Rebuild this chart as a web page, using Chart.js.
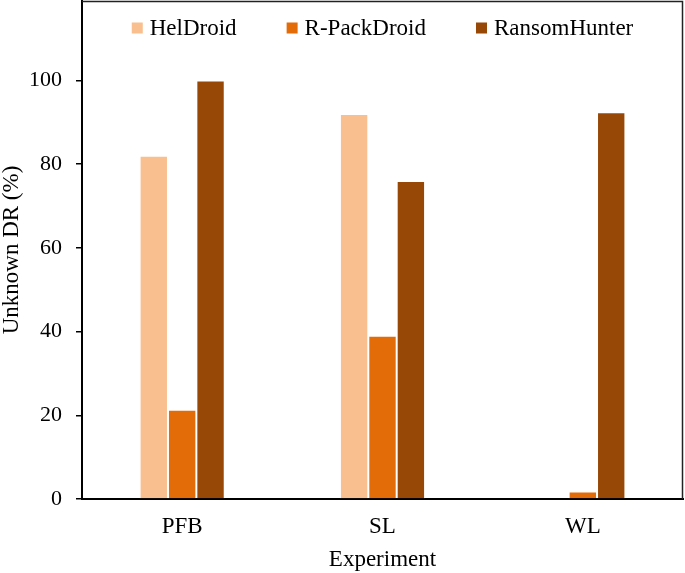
<!DOCTYPE html>
<html>
<head>
<meta charset="utf-8">
<script src="https://cdn.jsdelivr.net/npm/chart.js@4.4.0/dist/chart.umd.min.js"></script>
<style>
  html, body { margin: 0; padding: 0; background: #fff; }
  #wrap { width: 685px; height: 573px; }
</style>
</head>
<body>
<div id="wrap"><canvas id="chart"></canvas></div>
<script>
// Данные графика
const categories = ['PFB', 'SL', 'WL'];
const helDroid = [82, 92, 0];
const rPackDroid = [21.3, 39, 1.8];
const ransomHunter = [100, 76, 92.4];
const yTicks = [0, 20, 40, 60, 80, 100];

const FONT = "'Liberation Serif', 'Times New Roman', serif";

// Рамка вокруг области графика (верх и право)
const frameBox = {
   id: 'frameBox',
   afterDraw(chart) {
      const { ctx, chartArea } = chart;
      ctx.save();
      ctx.strokeStyle = '#222';
      ctx.lineWidth = 1.5;
      ctx.beginPath();
      ctx.moveTo(chartArea.left, chartArea.top + 0.5);
      ctx.lineTo(chartArea.right - 0.5, chartArea.top + 0.5);
      ctx.lineTo(chartArea.right - 0.5, chartArea.bottom);
      ctx.stroke();
      ctx.restore();
   }
};

// Легенда внутри области графика
const innerLegend = {
   id: 'innerLegend',
   afterDraw(chart) {
      const { ctx, chartArea } = chart;
      const box = 11, gapText = 7, gapItem = 50, yMid = 28;
      ctx.save();
      ctx.font = '23px ' + FONT;
      ctx.textBaseline = 'middle';
      const items = chart.data.datasets.map(ds => ({
         label: ds.label,
         color: ds.backgroundColor,
         w: ctx.measureText(ds.label).width
      }));
      let total = items.reduce((s, it) => s + box + gapText + it.w, 0) + gapItem * (items.length - 1);
      let x = (chartArea.left + chartArea.right) / 2 - total / 2;
      items.forEach(it => {
         ctx.fillStyle = it.color;
         ctx.fillRect(x, yMid - box / 2, box, box);
         ctx.fillStyle = '#000';
         ctx.fillText(it.label, x + box + gapText, yMid + 1);
         x += box + gapText + it.w + gapItem;
      });
      ctx.restore();
   }
};

const ctx = document.getElementById('chart').getContext('2d');
new Chart(ctx, {
   type: 'bar',
   data: {
      labels: categories,
      datasets: [
         { label: 'HelDroid', data: helDroid, backgroundColor: '#FABF8F' },
         { label: 'R-PackDroid', data: rPackDroid, backgroundColor: '#E36C09' },
         { label: 'RansomHunter', data: ransomHunter, backgroundColor: '#974806' }
      ]
   },
   options: {
      responsive: true,
      maintainAspectRatio: false,
      animation: false,
      devicePixelRatio: 1,
      datasets: {
         bar: {
            categoryPercentage: 0.425,
            barPercentage: 1,
            borderColor: 'rgba(255,255,255,0.85)',
            borderWidth: 1
         }
      },
      layout: { padding: { top: 1, right: 2, left: 0, bottom: 0 } },
      plugins: {
         legend: { display: false },
         tooltip: { enabled: false }
      },
      scales: {
         x: {
            grid: { display: false, drawTicks: false },
            border: { display: true, color: '#000', width: 2 },
            ticks: { color: '#000', padding: 14, font: { family: FONT, size: 23 } },
            title: {
               display: true,
               text: 'Experiment',
               color: '#000',
               font: { family: FONT, size: 23, lineHeight: 1 },
               padding: { top: 0, bottom: 2 }
            },
            afterFit(scale) {
               scale.height = 74;
               scale.paddingLeft = 0;
               scale.paddingRight = 0;
            }
         },
         y: {
            min: 0,
            max: 119,
            afterBuildTicks(scale) {
               scale.ticks = yTicks.map(v => ({ value: v }));
            },
            grid: {
               display: true,
               drawOnChartArea: false,
               drawTicks: true,
               tickLength: 6,
               color: '#000',
               lineWidth: 1.5
            },
            border: { display: true, color: '#000', width: 2 },
            ticks: { color: '#000', padding: 14, font: { family: FONT, size: 22 } },
            title: {
               display: true,
               text: 'Unknown DR (%)',
               color: '#000',
               font: { family: FONT, size: 23, lineHeight: 1 },
               padding: 0
            },
            afterFit(scale) {
               scale.width = 82;
               scale.paddingTop = 0;
               scale.paddingBottom = 0;
            }
         }
      }
   },
   plugins: [frameBox, innerLegend]
});
</script>
</body>
</html>
